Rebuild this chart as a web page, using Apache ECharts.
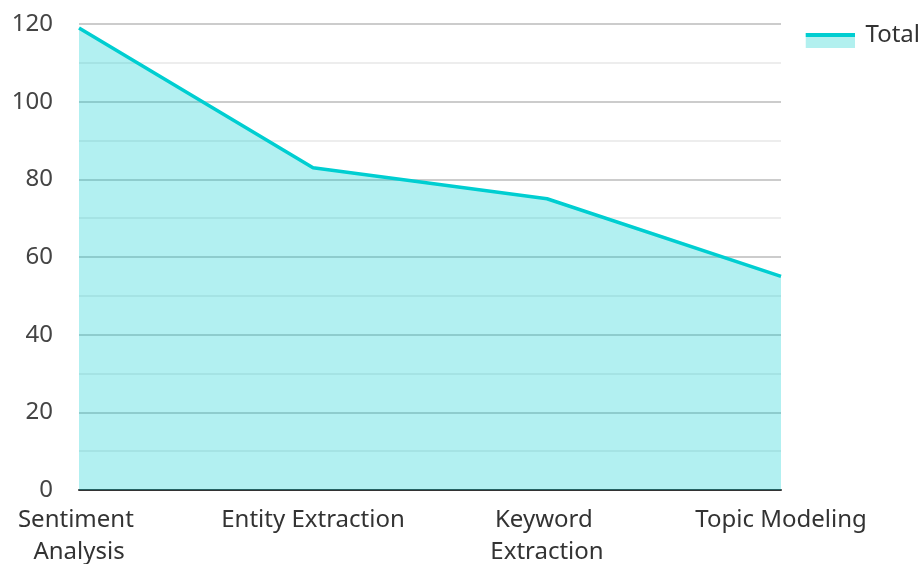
<!DOCTYPE html>
<html>
<head>
<meta charset="utf-8">
<script src="https://cdn.jsdelivr.net/npm/echarts@6/dist/echarts.min.js"></script>
<style>html,body{margin:0;padding:0;background:#fff}#c{width:923px;height:564px}</style>
</head>
<body>
<div id="c"></div>
<script>
const categories = ["Sentiment Analysis", "Entity Extraction", "Keyword Extraction", "Topic Modeling"];
const totalValues = [119, 83, 75, 55];
const seriesName = "Total";

const iconSvg = '<svg xmlns="http://www.w3.org/2000/svg" width="50" height="26">' +
  '<rect x="0" y="11" width="50" height="15" fill="#b2f0ef"/>' +
  '<rect x="0" y="11" width="50" height="4" fill="#00CED1"/></svg>';
const iconUri = 'image://data:image/svg+xml;charset=utf-8,' + encodeURIComponent(iconSvg);

const chart = echarts.init(document.getElementById('c'));
chart.setOption({
  animation: false,
  textStyle: { fontFamily: "Noto Sans" },
  legend: {
    right: 3, top: 22, padding: 0, itemWidth: 50, itemHeight: 26,
    icon: iconUri,
    textStyle: { fontSize: 24, color: '#333', fontFamily: "Noto Sans", padding: [0, 0, 0, 5] },
    data: [seriesName]
  },
  grid: { left: 79, right: 142, top: 24, bottom: 74, outerBoundsMode: 'none', containLabel: false },
  xAxis: {
    type: 'category', data: categories, boundaryGap: false,
    axisLine: { lineStyle: { color: '#333', width: 2 } },
    axisTick: { show: false },
    axisLabel: { fontSize: 24, color: '#333', width: 200, overflow: 'break', lineHeight: 32, margin: 14, interval: 0, hideOverlap: false }
  },
  yAxis: {
    type: 'value', min: 0, max: 120, interval: 20,
    axisLine: { show: false }, axisTick: { show: false },
    axisLabel: { fontSize: 24, color: '#444', margin: 26 },
    splitLine: { lineStyle: { color: '#cccccc', width: 2 } },
    minorTick: { show: false, splitNumber: 2 },
    minorSplitLine: { show: true, lineStyle: { color: '#e8e8e8', width: 1.5 } }
  },
  series: [{
    name: seriesName, type: 'line', data: totalValues,
    showSymbol: false, symbol: 'none',
    lineStyle: { color: '#00CED1', width: 3.5 },
    itemStyle: { color: '#00CED1' },
    areaStyle: { color: 'rgba(0,206,209,0.3)', opacity: 1 }
  }]
});
</script>
</body>
</html>
